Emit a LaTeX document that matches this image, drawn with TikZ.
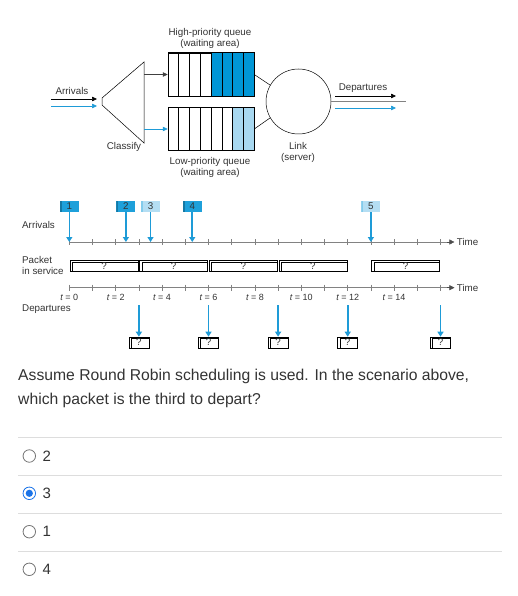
\documentclass[tikz,border=0pt]{standalone}
\usepackage{fontspec}
\setmainfont{Liberation Sans}
\usepackage{xcolor}
\usetikzlibrary{arrows.meta, calc}

\definecolor{hiblue}{RGB}{0,150,214}
\definecolor{loblue}{RGB}{168,216,240}
\definecolor{pktblue}{RGB}{30,160,218}
\definecolor{pktlight}{RGB}{180,222,243}
\definecolor{arrblue}{RGB}{30,155,215}
\definecolor{txtgray}{RGB}{51,51,51}
\definecolor{radioblue}{RGB}{26,115,232}
\definecolor{radiogray}{RGB}{117,117,117}
\definecolor{sepgray}{RGB}{221,221,221}
\definecolor{axisgray}{RGB}{130,130,130}

\begin{document}
\begin{tikzpicture}[x=1pt, y=-1pt,
    lbl/.style={font=\fontsize{9.8}{11}\selectfont, text=txtgray, inner sep=0pt},
    arr/.style={-{Triangle[length=5pt,width=4.5pt]}, line width=0.6pt},
    pktarrow/.style={-{Triangle[length=5pt,width=6pt]}, line width=1.6pt, arrblue},
    axis/.style={axisgray, line width=0.5pt},
    queue/.style={draw, line width=0.5pt, minimum width=86pt, minimum height=43pt, inner sep=0pt},
    hipkt/.style={lbl, fill=pktblue, minimum width=19pt, minimum height=11pt,
        path picture={\fill[black!25!pktblue] (path picture bounding box.north west)
            rectangle ([xshift=1.8pt]path picture bounding box.south west);}},
    lopkt/.style={lbl, fill=pktlight, minimum width=19pt, minimum height=11pt,
        path picture={\fill[pktblue!55] (path picture bounding box.north west)
            rectangle ([xshift=1.8pt]path picture bounding box.south west);}},
    svcbox/.style={lbl, draw, line width=0.6pt, minimum height=11pt,
        path picture={\draw[line width=0.4pt] ([xshift=2pt]path picture bounding box.south west)
            |- ([yshift=-1.5pt]path picture bounding box.north east);}},
    radio/.style={circle, draw=radiogray, line width=0.8pt, minimum size=12.5pt, inner sep=0pt},
    opt/.style={font=\fontsize{15}{18}\selectfont, text=txtgray, anchor=west, inner sep=0pt}]
    \useasboundingbox (0,0) rectangle (518,596);

    % scheduler
    \node[lbl, align=center] (hqlbl) at (210,38.5) {High-priority queue\\(waiting area)};
    \node[queue] (hq) at (211,74.5) {};
    \fill[hiblue] ($(hq.north west)!0.5!(hq.north east)$) rectangle (hq.south east);
    \foreach \i in {1,...,7} {
        \draw ($(hq.north west)!\i/8!(hq.north east)$) -- ($(hq.south west)!\i/8!(hq.south east)$);
    }
    \draw[line width=0.5pt] (hq.north west) rectangle (hq.south east);

    \node[queue] (lq) at (211,129) {};
    \fill[loblue] ($(lq.north west)!0.75!(lq.north east)$) rectangle (lq.south east);
    \foreach \i in {1,...,7} {
        \draw ($(lq.north west)!\i/8!(lq.north east)$) -- ($(lq.south west)!\i/8!(lq.south east)$);
    }
    \draw[line width=0.5pt] (lq.north west) rectangle (lq.south east);
    \node[lbl, align=center] (lqlbl) at (210,167.5) {Low-priority queue\\(waiting area)};

    \draw[line width=0.5pt] (102,98) -- (144,62) -- (144,143) -- (102,105) -- cycle;
    \node[lbl] (clslbl) at (124,147) {Classify};
    \coordinate (chi) at (144,74.5);
    \coordinate (clo) at (144,129);
    \draw[arr, black!75] (chi) -- (hq.west);
    \draw[arr, arrblue] (clo) -- (lq.west);

    \node[lbl] (arrlbl) at (72,91) {Arrivals};
    \coordinate (ain) at (51,99);
    \coordinate (aout) at (97,99);
    \coordinate (bin) at (51,106);
    \coordinate (bout) at (97,106);
    \draw[arr] (ain) -- (aout);
    \draw[arr, arrblue] (bin) -- (bout);

    \node[circle, draw, line width=0.5pt, minimum size=65pt, inner sep=0pt] (link) at (298.5,101.5) {};
    \draw[line width=0.5pt] (hq.east) -- (link.150);
    \draw[line width=0.5pt] (lq.east) -- (link.210);
    \node[lbl, align=center] (linklbl) at (298,152) {Link\\(server)};

    \node[lbl] (deplbl) at (363,88) {Departures};
    \coordinate (din) at (335,96);
    \coordinate (dout) at (396,96);
    \coordinate (ein) at (335,108);
    \coordinate (eout) at (396,108);
    \draw[axis] (link.east) -- ++(75,0);
    \draw[arr] (din) -- (dout);
    \draw[arr, arrblue] (ein) -- (eout);

    % timeline
    \node[lbl, anchor=west] (tarr) at (22,225) {Arrivals};
    \node[lbl, anchor=west, align=left] (tsvc) at (22,265.5) {Packet\\in service};
    \node[lbl, anchor=west] (tdep) at (22,309) {Departures};
    \begin{scope}[xshift=69.3pt, x=23.2pt]
        \coordinate (arrax) at (0,242);
        \coordinate (depax) at (0,287.7);
        \coordinate (dtop) at (0,305);
        \draw[axis, -{Triangle[length=5pt,width=5pt]}, black!70] (0,242) -- (16.6,242);
        \draw[axis, -{Triangle[length=5pt,width=5pt]}, black!70] (0,287.7) -- (16.6,287.7);
        \draw[axis] (0,242) -- (16.3,242);
        \draw[axis] (0,287.7) -- (16.3,287.7);
        \foreach \t in {0,...,16} {
            \draw[axis] (\t,239) -- (\t,245);
            \draw[axis] (\t,284.7) -- (\t,290.7);
        }
        \node[lbl, anchor=west] (time1) at (16.7,242) {Time};
        \node[lbl, anchor=west] (time2) at (16.7,287.7) {Time};
        \foreach \t in {0,2,...,14} {
            \node[lbl, font=\fontsize{9}{10}\selectfont] at (\t,297) {{\itshape t} = \t};
        }

        \node[hipkt] (p1) at (0,206.5) {1};
        \node[hipkt] (p2) at (2.44,206.5) {2};
        \node[lopkt] (p3) at (3.5,206.5) {3};
        \node[hipkt] (p4) at (5.3,206.5) {4};
        \node[lopkt] (p5) at (13,206.5) {5};
        \foreach \p in {p1,p2,p3,p4,p5} {
            \draw[pktarrow] (\p.south) -- (\p.south |- arrax);
        }

        \node[svcbox, minimum width=68pt] (s1) at (1.5,266.2) {?};
        \node[svcbox, minimum width=68pt] (s2) at (4.5,266.2) {?};
        \node[svcbox, minimum width=68pt] (s3) at (7.5,266.2) {?};
        \node[svcbox, minimum width=68pt] (s4) at (10.5,266.2) {?};
        \node[svcbox, minimum width=68pt] (s5) at (14.5,266.2) {?};

        \node[svcbox, minimum width=20pt] (d1) at (3,342.5) {?};
        \node[svcbox, minimum width=20pt] (d2) at (6,342.5) {?};
        \node[svcbox, minimum width=20pt] (d3) at (9,342.5) {?};
        \node[svcbox, minimum width=20pt] (d4) at (12,342.5) {?};
        \node[svcbox, minimum width=20pt] (d5) at (16,342.5) {?};
        \foreach \d in {d1,d2,d3,d4,d5} {
            \draw[pktarrow] (\d |- dtop) -- (\d.north);
        }
    \end{scope}

    % question
    \node[anchor=west, align=left, text=txtgray, inner sep=0pt,
        font=\fontsize{15.7}{24}\selectfont] (q) at (18,388.7)
        {Assume Round Robin scheduling is used. In the scenario above,\\which packet is the third to depart?};
    \foreach \y in {437.3,475.7,513.7,551.3} {
        \draw[sepgray, line width=0.8pt] (18,\y) -- (502,\y);
    }
    \node[radio] (r1) at (29.3,456) {};
    \node[radio, draw=radioblue] (r2) at (29.3,493.3) {};
    \node[radio] (r3) at (29.3,531.7) {};
    \node[radio] (r4) at (29.3,569.3) {};
    \fill[radioblue] (r2) circle (3.6pt);
    \node[opt] (o1) at (42.5,456) {2};
    \node[opt] (o2) at (42.5,493.3) {3};
    \node[opt] (o3) at (42.5,531.7) {1};
    \node[opt] (o4) at (42.5,569.3) {4};
\end{tikzpicture}
\end{document}
